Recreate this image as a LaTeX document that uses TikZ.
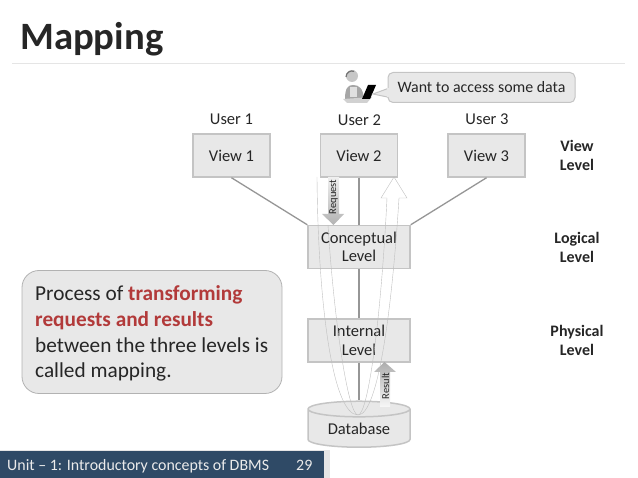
\documentclass[tikz,border=0pt]{standalone}
\usepackage{fontspec}
\setmainfont{Carlito}
\usetikzlibrary{calc,shapes.geometric}
\definecolor{boxfill}{HTML}{E8E8E8}
\definecolor{boxline}{HTML}{C4C4C4}
\definecolor{linkline}{HTML}{969696}
\definecolor{textdark}{HTML}{262626}
\definecolor{hotred}{HTML}{B23A3A}
\definecolor{footblue}{HTML}{2F4A66}
\def\fsize#1{\fontsize{#1}{#1}\selectfont}
\tikzset{
	levelbox/.style={draw=boxline, line width=1.5pt, fill=boxfill, minimum width=102pt, minimum height=43pt, align=center, text=textdark, font=\fsize{16.5}, inner sep=0pt},
	viewbox/.style={levelbox, minimum width=77pt},
	userlabel/.style={text=textdark, font=\fsize{16.5}, inner sep=0pt},
	levellabel/.style={text=textdark, font=\fsize{16}\bfseries, align=center, inner sep=0pt},
	link/.style={draw=linkline, line width=1.3pt},
	thincurve/.style={draw=black!25, line width=0.4pt},
	smalltext/.style={text=textdark, font=\fsize{10.5}, rotate=90, inner sep=0pt},
	notetext/.style={anchor=base west, text=textdark, font=\fsize{21.3}, inner sep=0pt},
	foottext/.style={anchor=base west, text=white!92!black, font=\fsize{15.9}, inner sep=0pt},
}
\begin{document}
\begin{tikzpicture}[x=1pt, y=-1pt]
	\useasboundingbox (0, 0) rectangle (638, 478);
	%%%%% HEADER %%%%%
	\node[anchor=base west, text=textdark, font=\fsize{38.7}\bfseries, inner sep=0pt] (title) at (20, 50) {Mapping};
	\draw[black!10, line width=0.8pt] (12, 63.5) -- (625, 63.5);

	%%%%% BOXES %%%%%
	\node[viewbox] (view1) at (231.5, 155.5) {View 1};
	\node[viewbox] (view2) at (359, 155.5) {View 2};
	\node[viewbox] (view3) at (486.5, 155.5) {View 3};
	\node[levelbox] (concept) at (359, 247) {Conceptual\\[2pt]Level};
	\node[levelbox] (internal) at (359, 340.5) {Internal\\[2pt]Level};
	\node[levelbox, cylinder, shape border rotate=90, shape aspect=0.25, minimum width=102pt, minimum height=46pt] (db) at (359, 428.5) {Database};

	\node[userlabel] (user1) at (231.5, 119) {User 1};
	\node[userlabel] (user2) at (359.5, 120.5) {User 2};
	\node[userlabel] (user3) at (487, 119) {User 3};

	\node[levellabel] (viewlevel) at (577, 155.5) {View\\[3pt]Level};
	\node[levellabel] (logiclevel) at (577, 247) {Logical\\[3pt]Level};
	\node[levellabel] (physlevel) at (577, 340.5) {Physical\\[3pt]Level};

	%%%%% LINKS %%%%%
	\draw[link] (view1.south) -- (concept.north west);
	\draw[link] (view3.south) -- (concept.north east);
	\draw[link] (view2.south) -- (concept.north);
	\draw[link] (concept.south) -- (internal.north);
	\draw[link] (internal.south) -- (db.top);

	%%%%% BLOCK ARROWS %%%%%
	\draw[draw=none, top color=black!6, bottom color=black!30] (328, 177) -- (339, 177) -- (339, 214) -- (344, 214) -- (333.5, 225) -- (322, 214) -- (328, 214) -- cycle;
	\node[smalltext] (request) at (333.5, 197) {Request};

	\draw[draw=none, top color=black!32, bottom color=black!3] (380, 407) -- (390, 407) -- (390, 372) -- (396, 372) -- (384.5, 362) -- (374, 372) -- (380, 372) -- cycle;
	\node[smalltext] (result) at (385.5, 386) {Result};

	%%%%% CURVES %%%%%
	\draw[thincurve] (317, 177) .. controls (318, 300) and (332, 415) .. (358, 415) .. controls (378, 415) and (392, 310) .. (399, 198) -- (407, 198) -- (394, 177) -- (381, 198) -- (387, 198) .. controls (381, 320) and (368, 415) .. (358, 415) .. controls (348, 415) and (334, 320) .. (328, 225);

	%%%%% USER ICON %%%%%
	\fill[black!35] (345, 99) .. controls (345, 88) and (348, 85) .. (353, 85) .. controls (359, 85) and (363, 88) .. (364, 99) -- cycle;
	\fill[black!12] (350, 87) rectangle (357, 97);
	\fill[black!22] (352, 76) circle (6);
	\draw[black!55, line width=1.2pt] (346, 77) arc (180:290:6);
	\fill[black!18] (343, 99) -- (372, 97) -- (367, 103) -- (347, 103) -- cycle;
	\fill[black] (368, 85) -- (376, 85) -- (370, 99) -- (362, 99) -- cycle;

	%%%%% BUBBLE %%%%%
	\draw[boxline, fill=boxfill, line width=1pt] (392, 87) -- (373, 94) -- (392, 98) -- cycle;
	\node[draw=boxline, fill=boxfill, line width=1pt, rounded corners=5pt, minimum width=187pt, minimum height=30pt, text=textdark, font=\fsize{15.9}, inner sep=0pt] (bubble) at (481.5, 87.5) {Want to access some data};
	\fill[boxfill] (387, 88) rectangle (391, 97);

	%%%%% MAPPING NOTE %%%%%
	\node[draw=black!30, fill=boxfill, line width=0.8pt, rounded corners=17pt, minimum width=260pt, minimum height=123pt, inner sep=0pt] (note) at (152, 332) {};
	\node[notetext] (line1) at (35, 301) {Process of \textcolor{hotred}{\bfseries transforming}};
	\node[notetext, text=hotred, font=\fsize{21.3}\bfseries] (line2) at (35, 327) {requests and results};
	\node[notetext] (line3) at (35, 352.5) {between the three levels is};
	\node[notetext] (line4) at (35, 378) {called mapping.};

	%%%%% FOOTER %%%%%
	\fill[black!10] (0, 450) rectangle (330, 478);
	\fill[footblue] (0, 451.5) rectangle (324, 478);
	\node[foottext] (unit) at (7, 470.5) {Unit -- 1: Introductory concepts of DBMS};
	\node[foottext] (page) at (296, 470.5) {29};
\end{tikzpicture}
\end{document}
